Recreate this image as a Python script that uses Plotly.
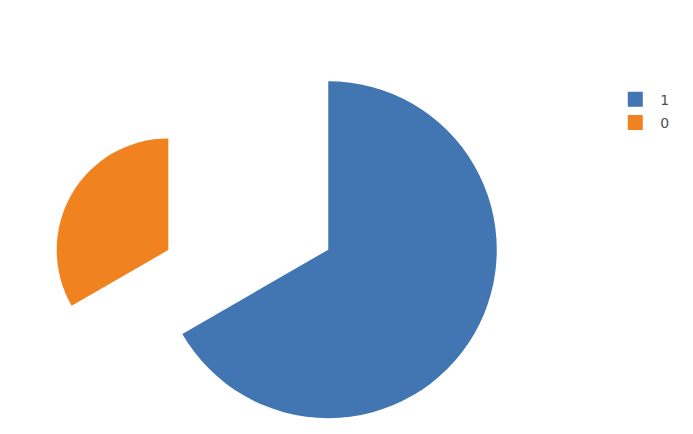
import plotly.graph_objects as go

labels = ['1', '0']
values = [2, 1]
colors = ['#4176b2', '#f0831f']
clear = 'rgba(0,0,0,0)'

fig = go.Figure()

# big pie: only the "1" slice is painted
fig.add_trace(go.Pie(
    labels=labels, values=values, sort=False, direction='clockwise',
    marker=dict(colors=[colors[0], clear]), textinfo='none',
    showlegend=False, domain=dict(x=[0.2190, 0.7053], y=[0.0544, 0.8318])
))

# small pie: only the "0" slice is painted
fig.add_trace(go.Pie(
    labels=labels, values=values, sort=False, direction='clockwise',
    marker=dict(colors=[clear, colors[1]]), textinfo='none',
    showlegend=False, domain=dict(x=[0.0703, 0.3924], y=[0.1850, 0.6998])
))

# legend entries
for name, c in zip(labels, colors):
    fig.add_trace(go.Scatter(
        x=[None], y=[None], mode='markers', name=name, legendgroup=name,
        marker=dict(symbol='square', size=15, color=c)
    ))

fig.update_layout(
    width=693, height=434,
    margin=dict(l=0, r=0, t=0, b=0),
    paper_bgcolor='white', plot_bgcolor='white',
    xaxis=dict(visible=False), yaxis=dict(visible=False),
    font=dict(family='DejaVu Sans', size=14, color='#505050'),
    legend=dict(x=0.8691, y=0.8257, xanchor='left', yanchor='top',
                traceorder='grouped', tracegroupgap=2, itemwidth=40),
)

fig.write_html('out.html', config=dict(displayModeBar=False))
